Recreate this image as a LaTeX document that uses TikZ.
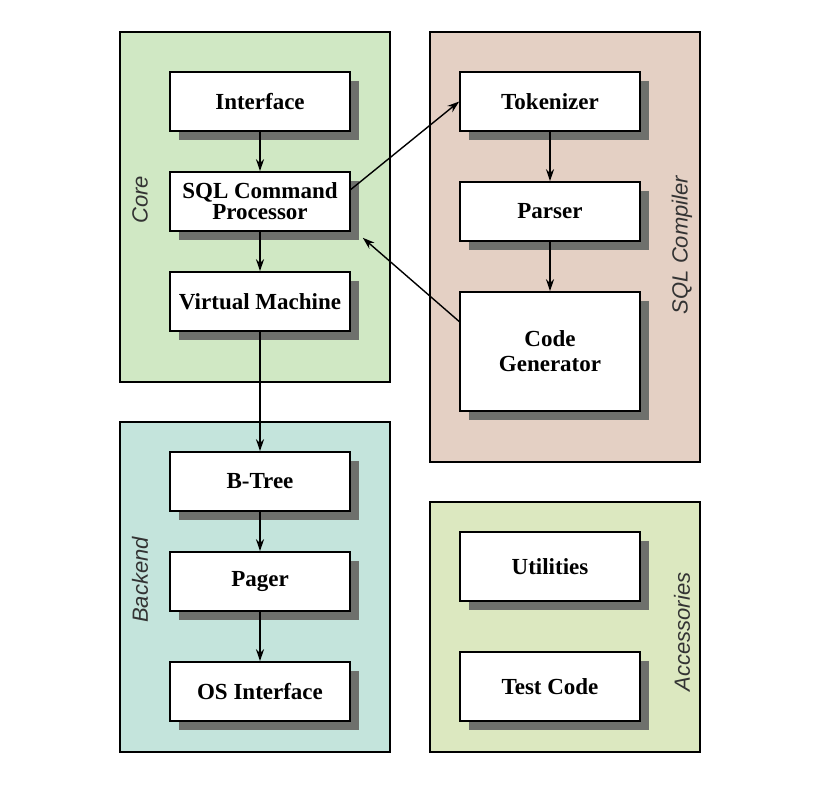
\documentclass[tikz,border=0pt]{standalone}
\usepackage{fontspec}
\setmainfont{Liberation Serif}
\newfontfamily\lab{Liberation Sans}
\usetikzlibrary{arrows.meta}
\definecolor{coreC}{HTML}{D0E8C4}
\definecolor{compC}{HTML}{E4D0C4}
\definecolor{backC}{HTML}{C4E4DC}
\definecolor{accC}{HTML}{DCE8C0}
\definecolor{shad}{HTML}{6E706C}
\begin{document}
\begin{tikzpicture}[x=1pt,y=-1pt,
 grp/.style={draw=black,line width=1.6pt},
 box/.style={draw=black,line width=1.6pt,fill=white,font=\fontsize{23}{25}\selectfont\bfseries,align=center,inner sep=1pt},
 shd/.style={fill=shad},
 lbl/.style={font=\lab\itshape\fontsize{22}{24}\selectfont,rotate=90,text=black!80},
 arr/.style={-{Stealth[length=12pt,width=8pt]},line width=1.4pt}]
\useasboundingbox (0,0) rectangle (824,792);
\draw[grp,fill=coreC] (120,32) rectangle (390,382);
\draw[grp,fill=compC] (430,32) rectangle (700,462);
\draw[grp,fill=backC] (120,422) rectangle (390,752);
\draw[grp,fill=accC] (430,502) rectangle (700,752);
\node[lbl] (lcore) at (140,200) {Core};
\node[lbl] (lcomp) at (682,245) {SQL Compiler};
\node[lbl] (lback) at (140,580) {Backend};
\node[lbl] (lacc) at (682,632) {Accessories};
% shadows
\foreach \a/\b/\c/\d in {170/72/350/131,170/172/350/231,170/272/350/331,460/72/640/131,460/182/640/241,460/292/640/411,170/452/350/511,170/552/350/611,170/662/350/721,460/532/640/601,460/652/640/721}
  \fill[shd] (\a+9,\b+9) rectangle (\c+9,\d+9);
\node[box,minimum width=180,minimum height=59] (iface) at (260,101.5) {Interface};
\node[box,minimum width=180,minimum height=59] (sql) at (260,201.5) {SQL Command\\[-4pt]Processor};
\node[box,minimum width=180,minimum height=59] (vm) at (260,301.5) {Virtual Machine};
\node[box,minimum width=180,minimum height=59] (tok) at (550,101.5) {Tokenizer};
\node[box,minimum width=180,minimum height=59] (par) at (550,211.5) {Parser};
\node[box,minimum width=180,minimum height=119] (gen) at (550,351.5) {Code\\Generator};
\node[box,minimum width=180,minimum height=59] (bt) at (260,481.5) {B-Tree};
\node[box,minimum width=180,minimum height=59] (pg) at (260,581.5) {Pager};
\node[box,minimum width=180,minimum height=59] (os) at (260,691.5) {OS Interface};
\node[box,minimum width=180,minimum height=69] (ut) at (550,566.5) {Utilities};
\node[box,minimum width=180,minimum height=69] (tc) at (550,686.5) {Test Code};
\draw[arr] (iface) -- (sql);
\draw[arr] (sql) -- (vm);
\draw[arr] (vm) -- (bt);
\draw[arr] (bt) -- (pg);
\draw[arr] (pg) -- (os);
\draw[arr] (tok) -- (par);
\draw[arr] (par) -- (gen);
\draw[arr] (sql.east) ++(0,-12) coordinate (s1) (s1) -- (tok.west);
\draw[arr] (gen.west) ++(0,-30) coordinate (g1) (g1) -- ([xshift=12pt,yshift=-6pt]sql.south east);
\end{tikzpicture}
\end{document}
